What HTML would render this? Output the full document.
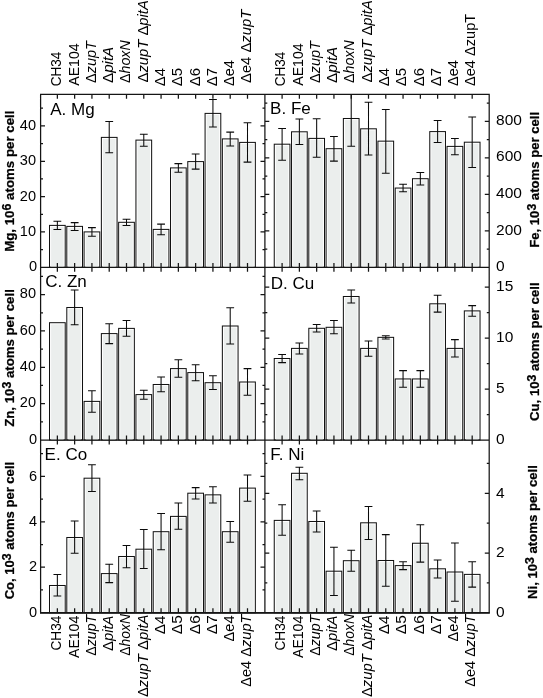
<!DOCTYPE html>
<html lang="en"><head><meta charset="utf-8"><title>Metal content per cell</title>
<style>html,body{margin:0;padding:0;background:#fff}svg{display:block}text{font-family:"Liberation Sans", Arial, Helvetica, sans-serif;fill:#000}.cat{font-size:14.4px}.it{font-style:italic}.tk{font-size:15.5px}.pl{font-size:17px}.ax{font-size:13.6px;font-weight:bold;stroke:#000;stroke-width:0.25px}</style></head><body>
<svg width="543" height="698" viewBox="0 0 543 698">
<rect width="543" height="698" fill="#fff"/>
<g fill="#fff" stroke="#111" stroke-width="1.02">
<rect x="49.51" y="225.4" width="15.7" height="41.9"/>
<rect x="66.8" y="226.4" width="15.7" height="40.9"/>
<rect x="84.08" y="231.9" width="15.7" height="35.4"/>
<rect x="101.37" y="137.4" width="15.7" height="129.9"/>
<rect x="118.65" y="222.3" width="15.7" height="45"/>
<rect x="135.94" y="140.1" width="15.7" height="127.2"/>
<rect x="153.22" y="229.4" width="15.7" height="37.9"/>
<rect x="170.51" y="167.9" width="15.7" height="99.4"/>
<rect x="187.79" y="161.6" width="15.7" height="105.7"/>
<rect x="205.08" y="113.4" width="15.7" height="153.9"/>
<rect x="222.36" y="138.9" width="15.7" height="128.4"/>
<rect x="239.65" y="142.4" width="15.7" height="124.9"/>
</g>
<g fill="#ebeeed">
<rect x="51.11" y="227" width="12.5" height="40.3"/>
<rect x="68.39" y="228" width="12.5" height="39.3"/>
<rect x="85.68" y="233.5" width="12.5" height="33.8"/>
<rect x="102.97" y="139" width="12.5" height="128.3"/>
<rect x="120.25" y="223.9" width="12.5" height="43.4"/>
<rect x="137.53" y="141.7" width="12.5" height="125.6"/>
<rect x="154.82" y="231" width="12.5" height="36.3"/>
<rect x="172.11" y="169.5" width="12.5" height="97.8"/>
<rect x="189.39" y="163.2" width="12.5" height="104.1"/>
<rect x="206.68" y="115" width="12.5" height="152.3"/>
<rect x="223.96" y="140.5" width="12.5" height="126.8"/>
<rect x="241.25" y="144" width="12.5" height="123.3"/>
</g>
<path d="M57.36 221.3V229.4M53.46 221.3H61.26M53.46 229.4H61.26M74.64 222.6V230.4M70.74 222.6H78.55M70.74 230.4H78.55M91.93 227.6V236.2M88.03 227.6H95.83M88.03 236.2H95.83M109.22 121.5V152.75M105.31 121.5H113.12M105.31 152.75H113.12M126.5 219.3V225.4M122.6 219.3H130.4M122.6 225.4H130.4M143.78 134.3V146.2M139.88 134.3H147.69M139.88 146.2H147.69M161.07 224.1V234.7M157.17 224.1H164.97M157.17 234.7H164.97M178.36 163.6V172.2M174.46 163.6H182.26M174.46 172.2H182.26M195.64 154V169.1M191.74 154H199.54M191.74 169.1H199.54M212.93 99.5V127M209.03 99.5H216.83M209.03 127H216.83M230.21 132.1V145.9M226.31 132.1H234.11M226.31 145.9H234.11M247.5 122.7V162.1M243.59 122.7H251.4M243.59 162.1H251.4" fill="none" stroke="#0a0a0a" stroke-width="1.05"/>
<g fill="#fff" stroke="#111" stroke-width="1.02">
<rect x="274.25" y="144.2" width="15.7" height="123.1"/>
<rect x="291.53" y="131.8" width="15.7" height="135.5"/>
<rect x="308.81" y="138.4" width="15.7" height="128.9"/>
<rect x="326.09" y="148.7" width="15.7" height="118.6"/>
<rect x="343.37" y="118.5" width="15.7" height="148.8"/>
<rect x="360.65" y="128.8" width="15.7" height="138.5"/>
<rect x="377.93" y="141.15" width="15.7" height="126.15"/>
<rect x="395.21" y="188.05" width="15.7" height="79.25"/>
<rect x="412.49" y="178.7" width="15.7" height="88.6"/>
<rect x="429.77" y="131.6" width="15.7" height="135.7"/>
<rect x="447.05" y="146.4" width="15.7" height="120.9"/>
<rect x="464.33" y="142.2" width="15.7" height="125.1"/>
</g>
<g fill="#ebeeed">
<rect x="275.85" y="145.8" width="12.5" height="121.5"/>
<rect x="293.13" y="133.4" width="12.5" height="133.9"/>
<rect x="310.41" y="140" width="12.5" height="127.3"/>
<rect x="327.69" y="150.3" width="12.5" height="117"/>
<rect x="344.97" y="120.1" width="12.5" height="147.2"/>
<rect x="362.25" y="130.4" width="12.5" height="136.9"/>
<rect x="379.53" y="142.75" width="12.5" height="124.55"/>
<rect x="396.81" y="189.65" width="12.5" height="77.65"/>
<rect x="414.09" y="180.3" width="12.5" height="87"/>
<rect x="431.37" y="133.2" width="12.5" height="134.1"/>
<rect x="448.65" y="148" width="12.5" height="119.3"/>
<rect x="465.93" y="143.8" width="12.5" height="123.5"/>
</g>
<path d="M282.1 128.5V160.3M278.2 128.5H286M278.2 160.3H286M299.38 119V144.4M295.48 119H303.28M295.48 144.4H303.28M316.66 118.7V157.3M312.76 118.7H320.56M312.76 157.3H320.56M333.94 136.4V161.1M330.04 136.4H337.84M330.04 161.1H337.84M351.22 94.3V146.2M347.32 146.2H355.12M368.5 102.3V155M364.6 102.3H372.4M364.6 155H372.4M385.78 109.4V173.2M381.88 109.4H389.68M381.88 173.2H389.68M403.06 184.3V191.8M399.16 184.3H406.96M399.16 191.8H406.96M420.34 172.4V185M416.44 172.4H424.24M416.44 185H424.24M437.62 120.5V142.4M433.72 120.5H441.52M433.72 142.4H441.52M454.9 138.4V154.8M451 138.4H458.8M451 154.8H458.8M472.18 116.9V167.4M468.28 116.9H476.08M468.28 167.4H476.08" fill="none" stroke="#0a0a0a" stroke-width="1.05"/>
<g fill="#fff" stroke="#111" stroke-width="1.02">
<rect x="49.51" y="322.7" width="15.7" height="117.3"/>
<rect x="66.8" y="307.5" width="15.7" height="132.5"/>
<rect x="84.08" y="401.4" width="15.7" height="38.6"/>
<rect x="101.37" y="333.6" width="15.7" height="106.4"/>
<rect x="118.65" y="328.4" width="15.7" height="111.6"/>
<rect x="135.94" y="394.6" width="15.7" height="45.4"/>
<rect x="153.22" y="384.5" width="15.7" height="55.5"/>
<rect x="170.51" y="368.6" width="15.7" height="71.4"/>
<rect x="187.79" y="372.6" width="15.7" height="67.4"/>
<rect x="205.08" y="382.7" width="15.7" height="57.3"/>
<rect x="222.36" y="326" width="15.7" height="114"/>
<rect x="239.65" y="382" width="15.7" height="58"/>
</g>
<g fill="#ebeeed">
<rect x="51.11" y="324.3" width="12.5" height="115.7"/>
<rect x="68.39" y="309.1" width="12.5" height="130.9"/>
<rect x="85.68" y="403" width="12.5" height="37"/>
<rect x="102.97" y="335.2" width="12.5" height="104.8"/>
<rect x="120.25" y="330" width="12.5" height="110"/>
<rect x="137.53" y="396.2" width="12.5" height="43.8"/>
<rect x="154.82" y="386.1" width="12.5" height="53.9"/>
<rect x="172.11" y="370.2" width="12.5" height="69.8"/>
<rect x="189.39" y="374.2" width="12.5" height="65.8"/>
<rect x="206.68" y="384.3" width="12.5" height="55.7"/>
<rect x="223.96" y="327.6" width="12.5" height="112.4"/>
<rect x="241.25" y="383.6" width="12.5" height="56.4"/>
</g>
<path d="M74.64 290V324.8M70.74 290H78.55M70.74 324.8H78.55M91.93 390.8V412.2M88.03 390.8H95.83M88.03 412.2H95.83M109.22 323.8V343.6M105.31 323.8H113.12M105.31 343.6H113.12M126.5 320.4V336.2M122.6 320.4H130.4M122.6 336.2H130.4M143.78 390.2V399.3M139.88 390.2H147.69M139.88 399.3H147.69M161.07 376.9V391.8M157.17 376.9H164.97M157.17 391.8H164.97M178.36 359.8V377.2M174.46 359.8H182.26M174.46 377.2H182.26M195.64 364.8V380.7M191.74 364.8H199.54M191.74 380.7H199.54M212.93 375.7V389.5M209.03 375.7H216.83M209.03 389.5H216.83M230.21 307.8V343.9M226.31 307.8H234.11M226.31 343.9H234.11M247.5 368.6V395.3M243.59 368.6H251.4M243.59 395.3H251.4" fill="none" stroke="#0a0a0a" stroke-width="1.05"/>
<g fill="#fff" stroke="#111" stroke-width="1.02">
<rect x="274.25" y="358.5" width="15.7" height="81.5"/>
<rect x="291.53" y="348.4" width="15.7" height="91.6"/>
<rect x="308.81" y="328.3" width="15.7" height="111.7"/>
<rect x="326.09" y="327.3" width="15.7" height="112.7"/>
<rect x="343.37" y="296.5" width="15.7" height="143.5"/>
<rect x="360.65" y="348.4" width="15.7" height="91.6"/>
<rect x="377.93" y="337.35" width="15.7" height="102.65"/>
<rect x="395.21" y="378.95" width="15.7" height="61.05"/>
<rect x="412.49" y="378.95" width="15.7" height="61.05"/>
<rect x="429.77" y="303.8" width="15.7" height="136.2"/>
<rect x="447.05" y="348.4" width="15.7" height="91.6"/>
<rect x="464.33" y="310.9" width="15.7" height="129.1"/>
</g>
<g fill="#ebeeed">
<rect x="275.85" y="360.1" width="12.5" height="79.9"/>
<rect x="293.13" y="350" width="12.5" height="90"/>
<rect x="310.41" y="329.9" width="12.5" height="110.1"/>
<rect x="327.69" y="328.9" width="12.5" height="111.1"/>
<rect x="344.97" y="298.1" width="12.5" height="141.9"/>
<rect x="362.25" y="350" width="12.5" height="90"/>
<rect x="379.53" y="338.95" width="12.5" height="101.05"/>
<rect x="396.81" y="380.55" width="12.5" height="59.45"/>
<rect x="414.09" y="380.55" width="12.5" height="59.45"/>
<rect x="431.37" y="305.4" width="12.5" height="134.6"/>
<rect x="448.65" y="350" width="12.5" height="90"/>
<rect x="465.93" y="312.5" width="12.5" height="127.5"/>
</g>
<path d="M282.1 354.5V362.6M278.2 354.5H286M278.2 362.6H286M299.38 342.9V354M295.48 342.9H303.28M295.48 354H303.28M316.66 324.5V332.05M312.76 324.5H320.56M312.76 332.05H320.56M333.94 320.5V333.8M330.04 320.5H337.84M330.04 333.8H337.84M351.22 289.9V303.05M347.32 289.9H355.12M347.32 303.05H355.12M368.5 340.9V356.3M364.6 340.9H372.4M364.6 356.3H372.4M385.78 335.8V338.9M381.88 335.8H389.68M381.88 338.9H389.68M403.06 370.6V387.3M399.16 370.6H406.96M399.16 387.3H406.96M420.34 370.6V387.3M416.44 370.6H424.24M416.44 387.3H424.24M437.62 295.2V312.1M433.72 295.2H441.52M433.72 312.1H441.52M454.9 339.6V357M451 339.6H458.8M451 357H458.8M472.18 305.6V316.2M468.28 305.6H476.08M468.28 316.2H476.08" fill="none" stroke="#0a0a0a" stroke-width="1.05"/>
<g fill="#fff" stroke="#111" stroke-width="1.02">
<rect x="49.51" y="585.5" width="15.7" height="27.2"/>
<rect x="66.8" y="537.5" width="15.7" height="75.2"/>
<rect x="84.08" y="478.2" width="15.7" height="134.5"/>
<rect x="101.37" y="573.6" width="15.7" height="39.1"/>
<rect x="118.65" y="556.5" width="15.7" height="56.2"/>
<rect x="135.94" y="549.2" width="15.7" height="63.5"/>
<rect x="153.22" y="531.7" width="15.7" height="81"/>
<rect x="170.51" y="516.4" width="15.7" height="96.3"/>
<rect x="187.79" y="493.2" width="15.7" height="119.5"/>
<rect x="205.08" y="494.85" width="15.7" height="117.85"/>
<rect x="222.36" y="531.7" width="15.7" height="81"/>
<rect x="239.65" y="488.1" width="15.7" height="124.6"/>
</g>
<g fill="#ebeeed">
<rect x="51.11" y="587.1" width="12.5" height="25.6"/>
<rect x="68.39" y="539.1" width="12.5" height="73.6"/>
<rect x="85.68" y="479.8" width="12.5" height="132.9"/>
<rect x="102.97" y="575.2" width="12.5" height="37.5"/>
<rect x="120.25" y="558.1" width="12.5" height="54.6"/>
<rect x="137.53" y="550.8" width="12.5" height="61.9"/>
<rect x="154.82" y="533.3" width="12.5" height="79.4"/>
<rect x="172.11" y="518" width="12.5" height="94.7"/>
<rect x="189.39" y="494.8" width="12.5" height="117.9"/>
<rect x="206.68" y="496.45" width="12.5" height="116.25"/>
<rect x="223.96" y="533.3" width="12.5" height="79.4"/>
<rect x="241.25" y="489.7" width="12.5" height="123"/>
</g>
<path d="M57.36 574.4V596M53.46 574.4H61.26M53.46 596H61.26M74.64 521V553.2M70.74 521H78.55M70.74 553.2H78.55M91.93 464.8V491.4M88.03 464.8H95.83M88.03 491.4H95.83M109.22 564.3V582.6M105.31 564.3H113.12M105.31 582.6H113.12M126.5 545.5V567.7M122.6 545.5H130.4M122.6 567.7H130.4M143.78 529.5V568.5M139.88 529.5H147.69M139.88 568.5H147.69M161.07 513.4V549.7M157.17 513.4H164.97M157.17 549.7H164.97M178.36 502.9V529.3M174.46 502.9H182.26M174.46 529.3H182.26M195.64 487.6V498.9M191.74 487.6H199.54M191.74 498.9H199.54M212.93 486.8V502.9M209.03 486.8H216.83M209.03 502.9H216.83M230.21 521.5V542.2M226.31 521.5H234.11M226.31 542.2H234.11M247.5 475V501.3M243.59 475H251.4M243.59 501.3H251.4" fill="none" stroke="#0a0a0a" stroke-width="1.05"/>
<g fill="#fff" stroke="#111" stroke-width="1.02">
<rect x="274.25" y="520.4" width="15.7" height="92.3"/>
<rect x="291.53" y="473.3" width="15.7" height="139.4"/>
<rect x="308.81" y="521.5" width="15.7" height="91.2"/>
<rect x="326.09" y="571.2" width="15.7" height="41.5"/>
<rect x="343.37" y="560.7" width="15.7" height="52"/>
<rect x="360.65" y="522.8" width="15.7" height="89.9"/>
<rect x="377.93" y="560.5" width="15.7" height="52.2"/>
<rect x="395.21" y="565.6" width="15.7" height="47.1"/>
<rect x="412.49" y="543.25" width="15.7" height="69.45"/>
<rect x="429.77" y="568.8" width="15.7" height="43.9"/>
<rect x="447.05" y="572" width="15.7" height="40.7"/>
<rect x="464.33" y="574.4" width="15.7" height="38.3"/>
</g>
<g fill="#ebeeed">
<rect x="275.85" y="522" width="12.5" height="90.7"/>
<rect x="293.13" y="474.9" width="12.5" height="137.8"/>
<rect x="310.41" y="523.1" width="12.5" height="89.6"/>
<rect x="327.69" y="572.8" width="12.5" height="39.9"/>
<rect x="344.97" y="562.3" width="12.5" height="50.4"/>
<rect x="362.25" y="524.4" width="12.5" height="88.3"/>
<rect x="379.53" y="562.1" width="12.5" height="50.6"/>
<rect x="396.81" y="567.2" width="12.5" height="45.5"/>
<rect x="414.09" y="544.85" width="12.5" height="67.85"/>
<rect x="431.37" y="570.4" width="12.5" height="42.3"/>
<rect x="448.65" y="573.6" width="12.5" height="39.1"/>
<rect x="465.93" y="576" width="12.5" height="36.7"/>
</g>
<path d="M282.1 504.8V535.2M278.2 504.8H286M278.2 535.2H286M299.38 467.2V479.8M295.48 467.2H303.28M295.48 479.8H303.28M316.66 511V532M312.76 511H320.56M312.76 532H320.56M333.94 547.3V595.4M330.04 547.3H337.84M330.04 595.4H337.84M351.22 550.2V571.2M347.32 550.2H355.12M347.32 571.2H355.12M368.5 506.4V539.5M364.6 506.4H372.4M364.6 539.5H372.4M385.78 534.6V586.3M381.88 534.6H389.68M381.88 586.3H389.68M403.06 561.8V569.6M399.16 561.8H406.96M399.16 569.6H406.96M420.34 524.7V562.1M416.44 524.7H424.24M416.44 562.1H424.24M437.62 559.9V577.9M433.72 559.9H441.52M433.72 577.9H441.52M454.9 543V601.3M451 543H458.8M451 601.3H458.8M472.18 561.8V587.1M468.28 561.8H476.08M468.28 587.1H476.08" fill="none" stroke="#0a0a0a" stroke-width="1.05"/>
<path d="M40.6 94.3H489.2V612.7H40.6ZM264.9 94.3V612.7M40.6 267.3H489.2M40.6 440H489.2M57.36 94.3v4.4M57.36 262.9v8.8M57.36 435.6v8.8M57.36 612.7v-4.4M74.64 94.3v4.4M74.64 262.9v8.8M74.64 435.6v8.8M74.64 612.7v-4.4M91.93 94.3v4.4M91.93 262.9v8.8M91.93 435.6v8.8M91.93 612.7v-4.4M109.22 94.3v4.4M109.22 262.9v8.8M109.22 435.6v8.8M109.22 612.7v-4.4M126.5 94.3v4.4M126.5 262.9v8.8M126.5 435.6v8.8M126.5 612.7v-4.4M143.78 94.3v4.4M143.78 262.9v8.8M143.78 435.6v8.8M143.78 612.7v-4.4M161.07 94.3v4.4M161.07 262.9v8.8M161.07 435.6v8.8M161.07 612.7v-4.4M178.36 94.3v4.4M178.36 262.9v8.8M178.36 435.6v8.8M178.36 612.7v-4.4M195.64 94.3v4.4M195.64 262.9v8.8M195.64 435.6v8.8M195.64 612.7v-4.4M212.93 94.3v4.4M212.93 262.9v8.8M212.93 435.6v8.8M212.93 612.7v-4.4M230.21 94.3v4.4M230.21 262.9v8.8M230.21 435.6v8.8M230.21 612.7v-4.4M247.5 94.3v4.4M247.5 262.9v8.8M247.5 435.6v8.8M247.5 612.7v-4.4M282.1 94.3v4.4M282.1 262.9v8.8M282.1 435.6v8.8M282.1 612.7v-4.4M299.38 94.3v4.4M299.38 262.9v8.8M299.38 435.6v8.8M299.38 612.7v-4.4M316.66 94.3v4.4M316.66 262.9v8.8M316.66 435.6v8.8M316.66 612.7v-4.4M333.94 94.3v4.4M333.94 262.9v8.8M333.94 435.6v8.8M333.94 612.7v-4.4M351.22 94.3v4.4M351.22 262.9v8.8M351.22 435.6v8.8M351.22 612.7v-4.4M368.5 94.3v4.4M368.5 262.9v8.8M368.5 435.6v8.8M368.5 612.7v-4.4M385.78 94.3v4.4M385.78 262.9v8.8M385.78 435.6v8.8M385.78 612.7v-4.4M403.06 94.3v4.4M403.06 262.9v8.8M403.06 435.6v8.8M403.06 612.7v-4.4M420.34 94.3v4.4M420.34 262.9v8.8M420.34 435.6v8.8M420.34 612.7v-4.4M437.62 94.3v4.4M437.62 262.9v8.8M437.62 435.6v8.8M437.62 612.7v-4.4M454.9 94.3v4.4M454.9 262.9v8.8M454.9 435.6v8.8M454.9 612.7v-4.4M472.18 94.3v4.4M472.18 262.9v8.8M472.18 435.6v8.8M472.18 612.7v-4.4M40.6 249.62h2.4M264.9 249.62h-2.4M40.6 231.95h4.4M264.9 231.95h-4.4M40.6 214.28h2.4M264.9 214.28h-2.4M40.6 196.6h4.4M264.9 196.6h-4.4M40.6 178.93h2.4M264.9 178.93h-2.4M40.6 161.25h4.4M264.9 161.25h-4.4M40.6 143.57h2.4M264.9 143.57h-2.4M40.6 125.9h4.4M264.9 125.9h-4.4M40.6 108.22h2.4M264.9 108.22h-2.4M264.9 249.07h2.4M489.2 249.07h-2.4M264.9 230.84h4.4M489.2 230.84h-4.4M264.9 212.61h2.4M489.2 212.61h-2.4M264.9 194.38h4.4M489.2 194.38h-4.4M264.9 176.15h2.4M489.2 176.15h-2.4M264.9 157.91h4.4M489.2 157.91h-4.4M264.9 139.68h2.4M489.2 139.68h-2.4M264.9 121.45h4.4M489.2 121.45h-4.4M264.9 103.22h2.4M489.2 103.22h-2.4M40.6 421.82h2.4M264.9 421.82h-2.4M40.6 403.65h4.4M264.9 403.65h-4.4M40.6 385.48h2.4M264.9 385.48h-2.4M40.6 367.3h4.4M264.9 367.3h-4.4M40.6 349.12h2.4M264.9 349.12h-2.4M40.6 330.95h4.4M264.9 330.95h-4.4M40.6 312.77h2.4M264.9 312.77h-2.4M40.6 294.6h4.4M264.9 294.6h-4.4M40.6 276.43h2.4M264.9 276.43h-2.4M264.9 414.52h2.4M489.2 414.52h-2.4M264.9 389.05h4.4M489.2 389.05h-4.4M264.9 363.57h2.4M489.2 363.57h-2.4M264.9 338.1h4.4M489.2 338.1h-4.4M264.9 312.62h2.4M489.2 312.62h-2.4M264.9 287.15h4.4M489.2 287.15h-4.4M40.6 589.97h2.4M264.9 589.97h-2.4M40.6 567.24h4.4M264.9 567.24h-4.4M40.6 544.51h2.4M264.9 544.51h-2.4M40.6 521.78h4.4M264.9 521.78h-4.4M40.6 499.05h2.4M264.9 499.05h-2.4M40.6 476.32h4.4M264.9 476.32h-4.4M40.6 453.59h2.4M264.9 453.59h-2.4M264.9 582.85h2.4M489.2 582.85h-2.4M264.9 553h4.4M489.2 553h-4.4M264.9 523.15h2.4M489.2 523.15h-2.4M264.9 493.3h4.4M489.2 493.3h-4.4M264.9 463.45h2.4M489.2 463.45h-2.4" fill="none" stroke="#151515" stroke-width="1.25"/>
<path d="M40 612.9H489.8" fill="none" stroke="#151515" stroke-width="1.7"/>
<g class="tk">
<text transform="translate(36 235.7) scale(0.94 1)" text-anchor="end">10</text>
<text transform="translate(36 200.75) scale(0.94 1)" text-anchor="end">20</text>
<text transform="translate(36 164.6) scale(0.94 1)" text-anchor="end">30</text>
<text transform="translate(36 129.65) scale(0.94 1)" text-anchor="end">40</text>
<text x="496.1" y="234.74">200</text>
<text x="496.1" y="198.28">400</text>
<text x="496.1" y="160.91">600</text>
<text x="496.1" y="125.15">800</text>
<text transform="translate(36 407.4) scale(0.94 1)" text-anchor="end">20</text>
<text transform="translate(36 371.05) scale(0.94 1)" text-anchor="end">40</text>
<text transform="translate(36 334.7) scale(0.94 1)" text-anchor="end">60</text>
<text transform="translate(36 298.35) scale(0.94 1)" text-anchor="end">80</text>
<text x="496.1" y="392.95">5</text>
<text x="496.1" y="342">10</text>
<text x="496.1" y="291.05">15</text>
<text transform="translate(37.1 617.15) scale(0.94 1)" text-anchor="end">0</text>
<text transform="translate(37.1 571.49) scale(0.94 1)" text-anchor="end">2</text>
<text transform="translate(37.1 525.53) scale(0.94 1)" text-anchor="end">4</text>
<text transform="translate(37.1 480.57) scale(0.94 1)" text-anchor="end">6</text>
<text x="496.1" y="616.6">0</text>
<text x="496.1" y="556.9">2</text>
<text x="496.1" y="497.6">4</text>
<text transform="translate(37.1 271.05) scale(0.94 1)" text-anchor="end">0</text>
<text transform="translate(37.1 443.75) scale(0.94 1)" text-anchor="end">0</text>
<text x="496.1" y="271.2">0</text>
<text x="496.1" y="443.9">0</text>
</g>
<g class="pl">
<text x="50.2" y="114.9">A. Mg</text>
<text x="270.1" y="113.5">B. Fe</text>
<text x="45.2" y="287.2">C. Zn</text>
<text x="270.8" y="289.4">D. Cu</text>
<text x="44.6" y="460">E. Co</text>
<text x="270.2" y="460">F. Ni</text>
</g>
<g class="cat">
<text transform="translate(61.26 86.25) rotate(-90) scale(0.9372 1)">CH34</text>
<text transform="translate(61.26 615.75) rotate(-90) scale(0.9439 1)" text-anchor="end">CH34</text>
<text transform="translate(78.55 85.75) rotate(-90) scale(0.9825 1)">AE104</text>
<text transform="translate(78.55 615.75) rotate(-90) scale(0.9768 1)" text-anchor="end">AE104</text>
<text transform="translate(95.83 83) rotate(-90) scale(1.0060 1)">Δ<tspan class="it">zupT</tspan></text>
<text transform="translate(95.83 614.75) rotate(-90) scale(0.9881 1)" text-anchor="end">Δ<tspan class="it">zupT</tspan></text>
<text transform="translate(113.12 83) rotate(-90) scale(1.0531 1)">Δ<tspan class="it">pitA</tspan></text>
<text transform="translate(113.12 615.5) rotate(-90) scale(1.0301 1)" text-anchor="end">Δ<tspan class="it">pitA</tspan></text>
<text transform="translate(130.4 83) rotate(-90) scale(0.9884 1)">Δ<tspan class="it">hoxN</tspan></text>
<text transform="translate(130.4 614) rotate(-90) scale(0.9650 1)" text-anchor="end">Δ<tspan class="it">hoxN</tspan></text>
<text transform="translate(147.69 82.5) rotate(-90) scale(1.0286 1)">Δ<tspan class="it">zupT</tspan> Δ<tspan class="it">pitA</tspan></text>
<text transform="translate(147.69 614.5) rotate(-90) scale(1.0317 1)" text-anchor="end">Δ<tspan class="it">zupT</tspan> Δ<tspan class="it">pitA</tspan></text>
<text transform="translate(164.97 86.25) rotate(-90) scale(1.0302 1)">Δ4</text>
<text transform="translate(164.97 615.5) rotate(-90) scale(1.0600 1)" text-anchor="end">Δ4</text>
<text transform="translate(182.26 86.25) rotate(-90) scale(1.0465 1)">Δ5</text>
<text transform="translate(182.26 615.25) rotate(-90) scale(1.0749 1)" text-anchor="end">Δ5</text>
<text transform="translate(199.54 86.25) rotate(-90) scale(1.0458 1)">Δ6</text>
<text transform="translate(199.54 615.25) rotate(-90) scale(1.0749 1)" text-anchor="end">Δ6</text>
<text transform="translate(216.83 86.25) rotate(-90) scale(1.0458 1)">Δ7</text>
<text transform="translate(216.83 615.25) rotate(-90) scale(1.0760 1)" text-anchor="end">Δ7</text>
<text transform="translate(234.11 86) rotate(-90) scale(1.0101 1)">Δe4</text>
<text transform="translate(234.11 615.5) rotate(-90) scale(1.0107 1)" text-anchor="end">Δe4</text>
<text transform="translate(251.4 83) rotate(-90) scale(1.0280 1)">Δe4 Δ<tspan class="it">zupT</tspan></text>
<text transform="translate(251.4 614.5) rotate(-90) scale(1.0140 1)" text-anchor="end">Δe4 Δ<tspan class="it">zupT</tspan></text>
<text transform="translate(285.3 86.25) rotate(-90) scale(0.9372 1)">CH34</text>
<text transform="translate(285.3 615.75) rotate(-90) scale(0.9439 1)" text-anchor="end">CH34</text>
<text transform="translate(302.58 85.75) rotate(-90) scale(0.9825 1)">AE104</text>
<text transform="translate(302.58 615.75) rotate(-90) scale(0.9768 1)" text-anchor="end">AE104</text>
<text transform="translate(319.86 83) rotate(-90) scale(1.0060 1)">Δ<tspan class="it">zupT</tspan></text>
<text transform="translate(319.86 614.75) rotate(-90) scale(0.9881 1)" text-anchor="end">Δ<tspan class="it">zupT</tspan></text>
<text transform="translate(337.14 83) rotate(-90) scale(1.0531 1)">Δ<tspan class="it">pitA</tspan></text>
<text transform="translate(337.14 615.5) rotate(-90) scale(1.0301 1)" text-anchor="end">Δ<tspan class="it">pitA</tspan></text>
<text transform="translate(354.42 83) rotate(-90) scale(0.9884 1)">Δ<tspan class="it">hoxN</tspan></text>
<text transform="translate(354.42 614) rotate(-90) scale(0.9650 1)" text-anchor="end">Δ<tspan class="it">hoxN</tspan></text>
<text transform="translate(371.7 82.5) rotate(-90) scale(1.0286 1)">Δ<tspan class="it">zupT</tspan> Δ<tspan class="it">pitA</tspan></text>
<text transform="translate(371.7 614.5) rotate(-90) scale(1.0317 1)" text-anchor="end">Δ<tspan class="it">zupT</tspan> Δ<tspan class="it">pitA</tspan></text>
<text transform="translate(388.98 86.25) rotate(-90) scale(1.0302 1)">Δ4</text>
<text transform="translate(388.98 615.5) rotate(-90) scale(1.0600 1)" text-anchor="end">Δ4</text>
<text transform="translate(406.26 86.25) rotate(-90) scale(1.0465 1)">Δ5</text>
<text transform="translate(406.26 615.25) rotate(-90) scale(1.0749 1)" text-anchor="end">Δ5</text>
<text transform="translate(423.54 86.25) rotate(-90) scale(1.0458 1)">Δ6</text>
<text transform="translate(423.54 615.25) rotate(-90) scale(1.0749 1)" text-anchor="end">Δ6</text>
<text transform="translate(440.82 86.25) rotate(-90) scale(1.0458 1)">Δ7</text>
<text transform="translate(440.82 615.25) rotate(-90) scale(1.0760 1)" text-anchor="end">Δ7</text>
<text transform="translate(458.1 86) rotate(-90) scale(1.0101 1)">Δe4</text>
<text transform="translate(458.1 615.5) rotate(-90) scale(1.0107 1)" text-anchor="end">Δe4</text>
<text transform="translate(475.38 86) rotate(-90) scale(1.0142 1)">Δe4 ΔzupT</text>
<text transform="translate(475.38 614.5) rotate(-90) scale(1.0140 1)" text-anchor="end">Δe4 Δ<tspan class="it">zupT</tspan></text>
</g>
<g class="ax" text-anchor="middle">
<text transform="translate(13.8 181.2) rotate(-90) scale(0.9779 1)">Mg, 10<tspan dy="-2.8" font-size="12.7">6</tspan><tspan dy="2.8"> atoms per cell</tspan></text>
<text transform="translate(13.8 358) rotate(-90) scale(0.9719 1)">Zn, 10<tspan dy="-2.8" font-size="12.7">3</tspan><tspan dy="2.8"> atoms per cell</tspan></text>
<text transform="translate(13.8 530.6) rotate(-90) scale(0.9617 1)">Co, 10<tspan dy="-2.8" font-size="12.7">3</tspan><tspan dy="2.8"> atoms per cell</tspan></text>
<text transform="translate(538.8 179.85) rotate(-90) scale(0.9664 1)">Fe, 10<tspan dy="-2.8" font-size="12.7">3</tspan><tspan dy="2.8"> atoms per cell</tspan></text>
<text transform="translate(538.8 351.7) rotate(-90) scale(0.9684 1)">Cu, 10<tspan dy="-2.8" font-size="12.7">3</tspan><tspan dy="2.8"> atoms per cell</tspan></text>
<text transform="translate(537.1 532.05) rotate(-90) scale(0.9673 1)">Ni, 10<tspan dy="-2.8" font-size="12.7">3</tspan><tspan dy="2.8"> atoms per cell</tspan></text>
</g>
</svg></body></html>
